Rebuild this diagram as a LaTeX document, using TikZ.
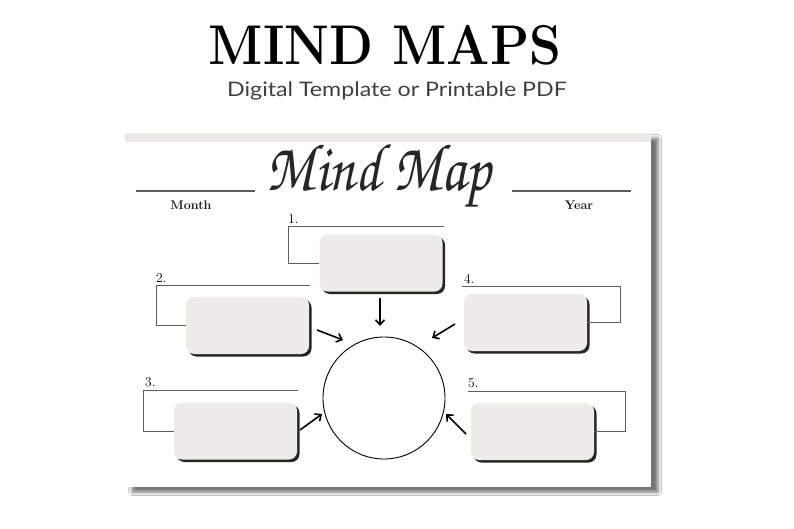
\documentclass[tikz,border=0pt]{standalone}
\usepackage{fontspec}
\usepackage{graphicx}
\newfontfamily\subfont{Lato}
\usetikzlibrary{arrows.meta,shadows,shadows.blur}
\definecolor{boxfill}{HTML}{EDECE8}
\definecolor{strip}{HTML}{EBEAE6}
\definecolor{linegray}{HTML}{5E5E5E}
\definecolor{boxshadow}{HTML}{262626}
\begin{document}
\begin{tikzpicture}[x=1pt,y=-1pt,
  box/.style={rectangle, rounded corners=8pt, fill=boxfill, minimum width=123pt, minimum height=57pt, inner sep=0pt,
    drop shadow={shadow xshift=2.5pt, shadow yshift=-2.5pt, fill=boxshadow, opacity=1}},
  bracket/.style={draw=linegray, line width=0.8pt},
  hline/.style={draw=linegray, line width=1.1pt},
  arr/.style={-{Straight Barb[length=5pt,width=9pt]}, line width=1.6pt, black},
  num/.style={font=\fontsize{13.5}{14}\selectfont, text=black, inner sep=0pt, anchor=base west},
  hdr/.style={font=\fontsize{12.5}{13}\selectfont\bfseries, text=black!90, inner sep=0pt, anchor=base},
]
\useasboundingbox (0,0) rectangle (794,529);
\fill[white] (0,0) rectangle (794,529);

% titles
\node[inner sep=0pt] (title) at (385,45) {\scalebox{0.91}[1]{\fontsize{56}{56}\selectfont\bfseries MIND MAPS}};
\node[inner sep=0pt, anchor=base, text=black!75] (sub) at (397,97) {\scalebox{1.16}[1]{\subfont\fontsize{20}{20}\selectfont Digital Template or Printable PDF}};

% page
\path[fill=white, blur shadow={shadow xshift=7pt, shadow yshift=-5pt, shadow blur radius=3.5pt, shadow opacity=55}] (125,133) rectangle (651,487);
\fill[strip] (125,133) rectangle (651,142);

% script heading
\node[inner sep=0pt, text=black!85] (script) at (379,177) {\scalebox{1.15}[1.35]{\fontencoding{T1}\fontfamily{pzc}\fontseries{mb}\fontshape{it}\fontsize{50}{50}\selectfont Mind Map}};

% month / year
\coordinate (m1) at (136,191); \coordinate (m2) at (255,191);
\coordinate (y1) at (512,191); \coordinate (y2) at (631,191);
\draw[hline] (m1) -- (m2);
\draw[hline] (y1) -- (y2);
\node[hdr] (month) at (191,210) {Month};
\node[hdr] (year) at (579,210) {Year};

% circle
\node[circle, draw, line width=0.9pt, minimum size=122pt, inner sep=0pt] (c) at (384,398) {};

% boxes
\node[box] (b1) at (381,263) {};
\node[box] (b2) at (247.5,325.5) {};
\node[box] (b4) at (525.5,322.5) {};
\node[box] (b3) at (235.5,431) {};
\node[box] (b5) at (532.5,431.5) {};

% brackets
\coordinate (k1) at (288,226);
\coordinate (k2) at (156,285);
\coordinate (k3) at (143,390);
\coordinate (k4) at (620,286);
\coordinate (k5) at (625,391);
\draw[bracket] (b1.west) -| (k1) -- ([xshift=1pt]k1 -| b1.east);
\draw[bracket] (b2.west) -| (k2) -- ([xshift=1pt]k2 -| b2.east);
\draw[bracket] (b3.west) -| (k3) -- ([xshift=1pt]k3 -| b3.east);
\draw[bracket] (b4.east) -| (k4) -- ([xshift=-2pt]k4 -| b4.west);
\draw[bracket] (b5.east) -| (k5) -- ([xshift=-3pt]k5 -| b5.west);

% numbers
\node[num] (n1) at ([yshift=3pt]k1) {1.};
\node[num] (n2) at ([yshift=3pt]k2) {2.};
\node[num] (n3) at ([xshift=2pt,yshift=4pt]k3) {3.};
\node[num] (n4) at ([yshift=3pt]k4 -| b4.west) {4.};
\node[num] (n5) at ([xshift=-3pt,yshift=4pt]k5 -| b5.west) {5.};

% arrows
\coordinate (t1) at (380,298); \coordinate (h1) at (380,326);
\coordinate (t2) at (317,330); \coordinate (h2) at (343,340);
\coordinate (t4) at (455,324); \coordinate (h4) at (432,338);
\coordinate (t3) at (300,430); \coordinate (h3) at (322,414);
\coordinate (t5) at (466,434); \coordinate (h5) at (446,414);
\draw[arr] (t1) -- (h1);
\draw[arr] (t2) -- (h2);
\draw[arr] (t4) -- (h4);
\draw[arr] (t3) -- (h3);
\draw[arr] (t5) -- (h5);
\end{tikzpicture}
\end{document}
